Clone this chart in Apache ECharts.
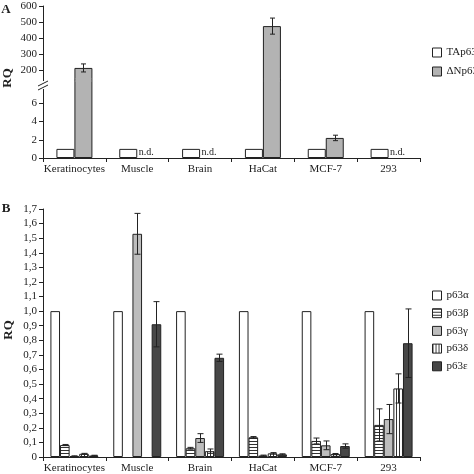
<!DOCTYPE html>
<html>
<head>
<meta charset="utf-8">
<script src="https://cdn.jsdelivr.net/npm/echarts@6/dist/echarts.min.js"></script>
<style>
  html, body { margin: 0; padding: 0; background: #fff; }
  #chart { width: 474px; height: 474px; }
</style>
</head>
<body>
<div id="chart"></div>
<script>
// categories shared by both panels
const categories = ['Keratinocytes', 'Muscle', 'Brain', 'HaCat', 'MCF-7', '293'];

// panel A: TAp63 / ΔNp63 (null = n.d.)
const tap63 = [1, 1, 1, 1, 1, 1];
const dnp63 = [215, null, null, 475, 2.2, null];
const dnp63Err = [25, null, null, 50, 0.3, null];
const lowTicksA = [0, 2, 4, 6];
const highTicksA = [200, 300, 400, 500, 600];

// panel B: p63 isoforms
const p63a = [1, 1, 1, 1, 1, 1];
const p63b = [0.082, null, 0.06, 0.135, 0.11, 0.22];
const p63bErr = [0.004, null, 0.006, 0.005, 0.02, 0.11];
const p63g = [0.006, 1.53, 0.13, 0.01, 0.08, 0.26];
const p63gErr = [0.002, 0.14, 0.03, 0.003, 0.03, 0.1];
const p63d = [0.022, null, 0.04, 0.025, 0.02, 0.47];
const p63dErr = [0.003, null, 0.015, 0.005, 0.004, 0.1];
const p63e = [0.01, 0.91, 0.68, 0.018, 0.075, 0.78];
const p63eErr = [0.002, 0.155, 0.025, 0.004, 0.015, 0.235];

const FONT = 'Liberation Serif';
const INK = '#222';
const DN_GREY = '#b3b3b3';
const BW_A = 18;
const BW_B = 9.6;
const BREAK_LOW = 8.55;
const BREAK_HIGH = 140;

function stripes(horizontal) {
  const c = document.createElement('canvas');
  c.width = 3; c.height = 3;
  const ctx = c.getContext('2d');
  ctx.fillStyle = '#fff';
  ctx.fillRect(0, 0, 3, 3);
  ctx.fillStyle = '#333';
  if (horizontal) ctx.fillRect(0, 0, 3, 1);
  else ctx.fillRect(0, 0, 1, 3);
  return { image: c, repeat: 'repeat' };
}

// error bar; if patch is set, also hides the seam where a bar crosses the axis break
function errorItem(bw, cap, patch) {
  return function (params, api) {
    const i = api.value(0), v = api.value(1), e = api.value(2), k = api.value(3);
    const hi = api.coord([i, v + e]);
    const lo = api.coord([i, v - e]);
    const x = Math.round(hi[0] + k * bw) + 0.5;
    const style = { stroke: INK, lineWidth: 1 };
    const children = [];
    if (patch) {
      const seam = api.coord([i, BREAK_HIGH]);
      children.push({
        type: 'rect',
        shape: { x: seam[0] + 1, y: seam[1] - 1.5, width: bw - 2, height: 3 },
        style: { fill: DN_GREY }
      });
    }
    children.push(
      { type: 'line', shape: { x1: x, y1: hi[1], x2: x, y2: lo[1] }, style },
      { type: 'line', shape: { x1: x - cap, y1: hi[1], x2: x + cap, y2: hi[1] }, style },
      { type: 'line', shape: { x1: x - cap, y1: lo[1], x2: x + cap, y2: lo[1] }, style }
    );
    return { type: 'group', children };
  };
}

function errRows(vals, errs, k, keep) {
  const rows = [];
  vals.forEach((v, i) => {
    if (v != null && errs[i] != null && keep(v)) rows.push([i, v, errs[i], k]);
  });
  return rows;
}

const bord = { borderColor: INK, borderWidth: 1 };
const axisText = { fontFamily: FONT, fontSize: 11, color: INK };

const xAxisBase = (gridIndex, show) => ({
  type: 'category',
  gridIndex,
  data: categories,
  show,
  axisLine: { lineStyle: { color: INK } },
  axisTick: { show: true, length: 4, lineStyle: { color: INK } },
  axisLabel: Object.assign({ interval: 0, margin: 6 }, axisText)
});

const yAxisBase = (gridIndex, extra) => Object.assign({
  type: 'value',
  gridIndex,
  axisLine: { show: true, lineStyle: { color: INK } },
  axisTick: { show: true, length: 4, lineStyle: { color: INK } },
  splitLine: { show: false },
  axisLabel: Object.assign({ margin: 6 }, axisText)
}, extra);

const dnLow = dnp63.map(v => v == null
  ? { value: 0, itemStyle: { borderWidth: 0 }, label: { show: true, formatter: 'n.d.', position: 'top', distance: 1, fontFamily: FONT, fontSize: 10, color: INK } }
  : v);

const barA = (name, data, color, grid) => ({
  name, type: 'bar', xAxisIndex: grid, yAxisIndex: grid, data,
  barWidth: BW_A, barGap: '0%',
  itemStyle: Object.assign({ color }, bord)
});

const barB = (name, data, color) => ({
  name, type: 'bar', xAxisIndex: 2, yAxisIndex: 2, data,
  barWidth: BW_B, barGap: '0%',
  itemStyle: Object.assign({ color }, bord)
});

const errB = []
  .concat(errRows(p63b, p63bErr, -1, () => true))
  .concat(errRows(p63g, p63gErr, 0, () => true))
  .concat(errRows(p63d, p63dErr, 1, () => true))
  .concat(errRows(p63e, p63eErr, 2, () => true));

const legendBase = {
  orient: 'vertical', left: 432, padding: 0,
  itemWidth: 9, itemHeight: 9, icon: 'rect',
  itemStyle: { borderWidth: 1, borderColor: INK },
  textStyle: { fontFamily: FONT, fontSize: 11, color: INK }
};

const chart = echarts.init(document.getElementById('chart'));
chart.setOption({
  animation: false,
  textStyle: { fontFamily: FONT },
  grid: [
    { left: 43, right: 54, top: 6, height: 74 },
    { left: 43, right: 54, top: 80, height: 78 },
    { left: 43, right: 54, top: 209, height: 248 }
  ],
  xAxis: [xAxisBase(0, false), xAxisBase(1, true), xAxisBase(2, true)],
  yAxis: [
    yAxisBase(0, {
      min: BREAK_HIGH, max: 600,
      axisTick: { show: true, length: 4, lineStyle: { color: INK }, customValues: highTicksA },
      axisLabel: Object.assign({ margin: 6, customValues: highTicksA }, axisText)
    }),
    yAxisBase(1, {
      min: 0, max: BREAK_LOW,
      axisTick: { show: true, length: 4, lineStyle: { color: INK }, customValues: lowTicksA },
      axisLabel: Object.assign({ margin: 6, customValues: lowTicksA }, axisText)
    }),
    yAxisBase(2, {
      min: 0, max: 1.7, interval: 0.1,
      axisLabel: Object.assign({
        margin: 6,
        formatter: v => (v === 0 ? '0' : v.toFixed(1).replace('.', ','))
      }, axisText)
    })
  ],
  legend: [
    Object.assign({ data: ['TAp63', 'ΔNp63'], top: 47, itemGap: 8 }, legendBase),
    Object.assign({ data: ['p63α', 'p63β', 'p63γ', 'p63δ', 'p63ε'], top: 290, itemGap: 6.7 }, legendBase)
  ],
  series: [
    barA('TAp63', tap63, '#fff', 0),
    barA('ΔNp63', dnp63, DN_GREY, 0),
    barA('TAp63', tap63, '#fff', 1),
    barA('ΔNp63', dnLow, DN_GREY, 1),
    {
      type: 'custom', xAxisIndex: 0, yAxisIndex: 0, clip: false,
      renderItem: errorItem(BW_A, 2.5, true), encode: { x: 0, y: 1 },
      data: errRows(dnp63, dnp63Err, 0.5, v => v > BREAK_LOW), z: 5
    },
    {
      type: 'custom', xAxisIndex: 1, yAxisIndex: 1, clip: true,
      renderItem: errorItem(BW_A, 2.5, false), encode: { x: 0, y: 1 },
      data: errRows(dnp63, dnp63Err, 0.5, v => v <= BREAK_LOW), z: 5
    },
    barB('p63α', p63a, '#fff'),
    barB('p63β', p63b, stripes(true)),
    barB('p63γ', p63g, '#bdbdbd'),
    barB('p63δ', p63d, stripes(false)),
    barB('p63ε', p63e, '#474747'),
    {
      type: 'custom', xAxisIndex: 2, yAxisIndex: 2, clip: true,
      renderItem: errorItem(BW_B, 3, false), encode: { x: 0, y: 1 },
      data: errB, z: 5
    }
  ],
  graphic: [
    { type: 'rect', z: 100, shape: { x: 39, y: 81, width: 8, height: 8 }, style: { fill: '#fff' } },
    { type: 'line', z: 101, shape: { x1: 38, y1: 86, x2: 48, y2: 81 }, style: { stroke: INK, lineWidth: 1 } },
    { type: 'line', z: 101, shape: { x1: 38, y1: 90, x2: 48, y2: 85 }, style: { stroke: INK, lineWidth: 1 } },
    { type: 'text', z: 101, x: 6, y: 10, style: { text: 'A', font: 'bold 13px "Liberation Serif"', fill: INK, textAlign: 'center', textVerticalAlign: 'middle' } },
    { type: 'text', z: 101, x: 6, y: 209, style: { text: 'B', font: 'bold 13px "Liberation Serif"', fill: INK, textAlign: 'center', textVerticalAlign: 'middle' } },
    { type: 'text', z: 101, x: 8, y: 78, rotation: Math.PI / 2, style: { text: 'RQ', font: 'bold 13px "Liberation Serif"', fill: INK, textAlign: 'center', textVerticalAlign: 'middle' } },
    { type: 'text', z: 101, x: 9, y: 330, rotation: Math.PI / 2, style: { text: 'RQ', font: 'bold 13px "Liberation Serif"', fill: INK, textAlign: 'center', textVerticalAlign: 'middle' } }
  ]
});
</script>
</body>
</html>
